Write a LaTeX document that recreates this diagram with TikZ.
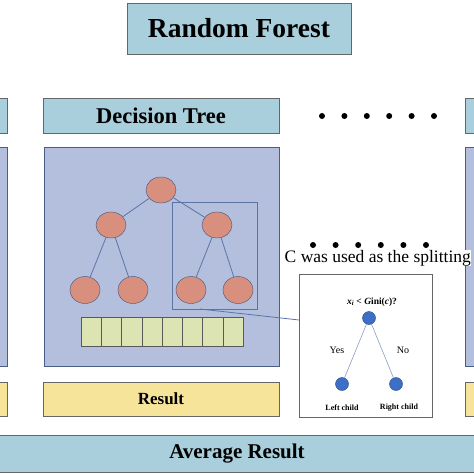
\documentclass[tikz,border=0pt]{standalone}
\usepackage{fontspec}
\setmainfont{Liberation Serif}
\usetikzlibrary{shapes.geometric, positioning}
\definecolor{hdrblue}{HTML}{A9CEDC}
\definecolor{panelblue}{HTML}{B3BFDC}
\definecolor{nodered}{HTML}{D98F7E}
\definecolor{cellgreen}{HTML}{DCE4B4}
\definecolor{resyellow}{HTML}{F6E49B}
\definecolor{leafblue}{HTML}{3D6FC6}
\definecolor{edgeblue}{HTML}{5B74A8}
\tikzstyle{hdr}=[draw=gray!80!black, fill=hdrblue, inner sep=0pt, font=\bfseries\fontsize{22.5}{24}\selectfont]
\tikzstyle{panel}=[draw=edgeblue!80!black, fill=panelblue, inner sep=0pt]
\tikzstyle{res}=[draw=gray!80!black, fill=resyellow, inner sep=0pt, font=\bfseries\fontsize{17}{19}\selectfont]
\tikzstyle{tnode}=[draw=edgeblue!70!black, fill=nodered, ellipse, minimum width=30, minimum height=26, inner sep=0pt]
\tikzstyle{cell}=[draw=gray!70!black, fill=cellgreen, minimum width=20.25, minimum height=29, inner sep=0pt]
\tikzstyle{leaf}=[draw=leafblue!60!black, fill=leafblue, circle, minimum size=13, inner sep=0pt]
\tikzstyle{dot}=[fill=black, circle, minimum size=6, inner sep=0pt]
\tikzstyle{branch}=[draw=edgeblue, line width=0.8pt]

\begin{document}
\begin{tikzpicture}[x=1pt, y=-1pt]
  \useasboundingbox (0,0) rectangle (474,474);
  \clip (0,0) rectangle (474,474);
  \node [hdr, minimum width=224, minimum height=51, font=\bfseries\fontsize{27.5}{29}\selectfont] (rf) at (239,28.5) {Random Forest};

  \node [hdr, minimum width=27, minimum height=35] (hdrL) at (-6.5,115.5) {};
  \node [panel, minimum width=27, minimum height=219] (panL) at (-6.5,256.5) {};
  \node [res, minimum width=27, minimum height=34] (resL) at (-6.5,399) {};

  \node [hdr, minimum width=236, minimum height=35] (dt) at (161,115.5) {Decision Tree};
  \node [panel, minimum width=235, minimum height=219] (pan) at (161.5,256.5) {};
  \node [res, minimum width=236, minimum height=34] (res) at (161,399) {Result};

  \node [hdr, minimum width=27, minimum height=35] (hdrR) at (478.5,115.5) {};
  \node [panel, minimum width=27, minimum height=219] (panR) at (478.5,256.5) {};
  \node [res, minimum width=27, minimum height=34] (resR) at (478.5,399) {};

  \node [hdr, minimum width=490, minimum height=37, font=\bfseries\fontsize{21}{23}\selectfont] (avg) at (237,453.5) {Average Result};

  \node [anchor=west, fill=white, inner sep=0.5pt, font=\fontsize{17.5}{20}\selectfont] (split) at (284,258) {C was used as the splitting};
  \foreach \i in {0,...,5} {
    \node [dot] (dotA\i) at (322+22.4*\i,116) {};
    \node [dot] (dotB\i) at (313+22.6*\i,245) {};
  }

  \node [draw=edgeblue, minimum width=85, minimum height=107, inner sep=0pt] (sub) at (214.5,255.5) {};
  \node [tnode] (root) at (161,190) {};
  \node [tnode] (l) at (111,225) {};
  \node [tnode] (r) at (217,225) {};
  \node [tnode, minimum height=27] (ll) at (85,290) {};
  \node [tnode, minimum height=27] (lr) at (133,290) {};
  \node [tnode, minimum height=27] (rl) at (191,290) {};
  \node [tnode, minimum height=27] (rr) at (238,290) {};
  \draw [branch] (root) -- (l);
  \draw [branch] (root) -- (r);
  \draw [branch] (l) -- (ll);
  \draw [branch] (l) -- (lr);
  \draw [branch] (r) -- (rl);
  \draw [branch] (r) -- (rr);

  \foreach \i in {0,...,7}
    \node [cell] (c\i) at (91.125+20.25*\i,331.5) {};

  \node [draw=gray!80!black, fill=white, minimum width=133, minimum height=143, inner sep=0pt] (pop) at (365.5,345.5) {};
  \coordinate (subout) at (200,309);
  \coordinate (popin) at (299,320);
  \draw [branch] (subout) -- (popin);

  \node [font=\bfseries\fontsize{9.5}{11}\selectfont] (q) at (372,302) {\textit{x}\textsubscript{\textit{i}} < \textit{G}ini(\textit{c})?};
  \node [leaf] (top) at (369,318) {};
  \node [leaf] (lc) at (342,384) {};
  \node [leaf] (rc) at (396,384) {};
  \draw [draw=edgeblue!70, line width=0.6pt] (top) -- (lc);
  \draw [draw=edgeblue!70, line width=0.6pt] (top) -- (rc);
  \node [font=\fontsize{10}{12}\selectfont] (yes) at (337,350) {Yes};
  \node [font=\fontsize{10}{12}\selectfont] (no) at (403,350) {No};
  \node [font=\bfseries\fontsize{8}{10}\selectfont] (lcl) at (342,408) {Left child};
  \node [font=\bfseries\fontsize{8}{10}\selectfont] (rcl) at (399,408) {Right child};
\end{tikzpicture}
\end{document}
